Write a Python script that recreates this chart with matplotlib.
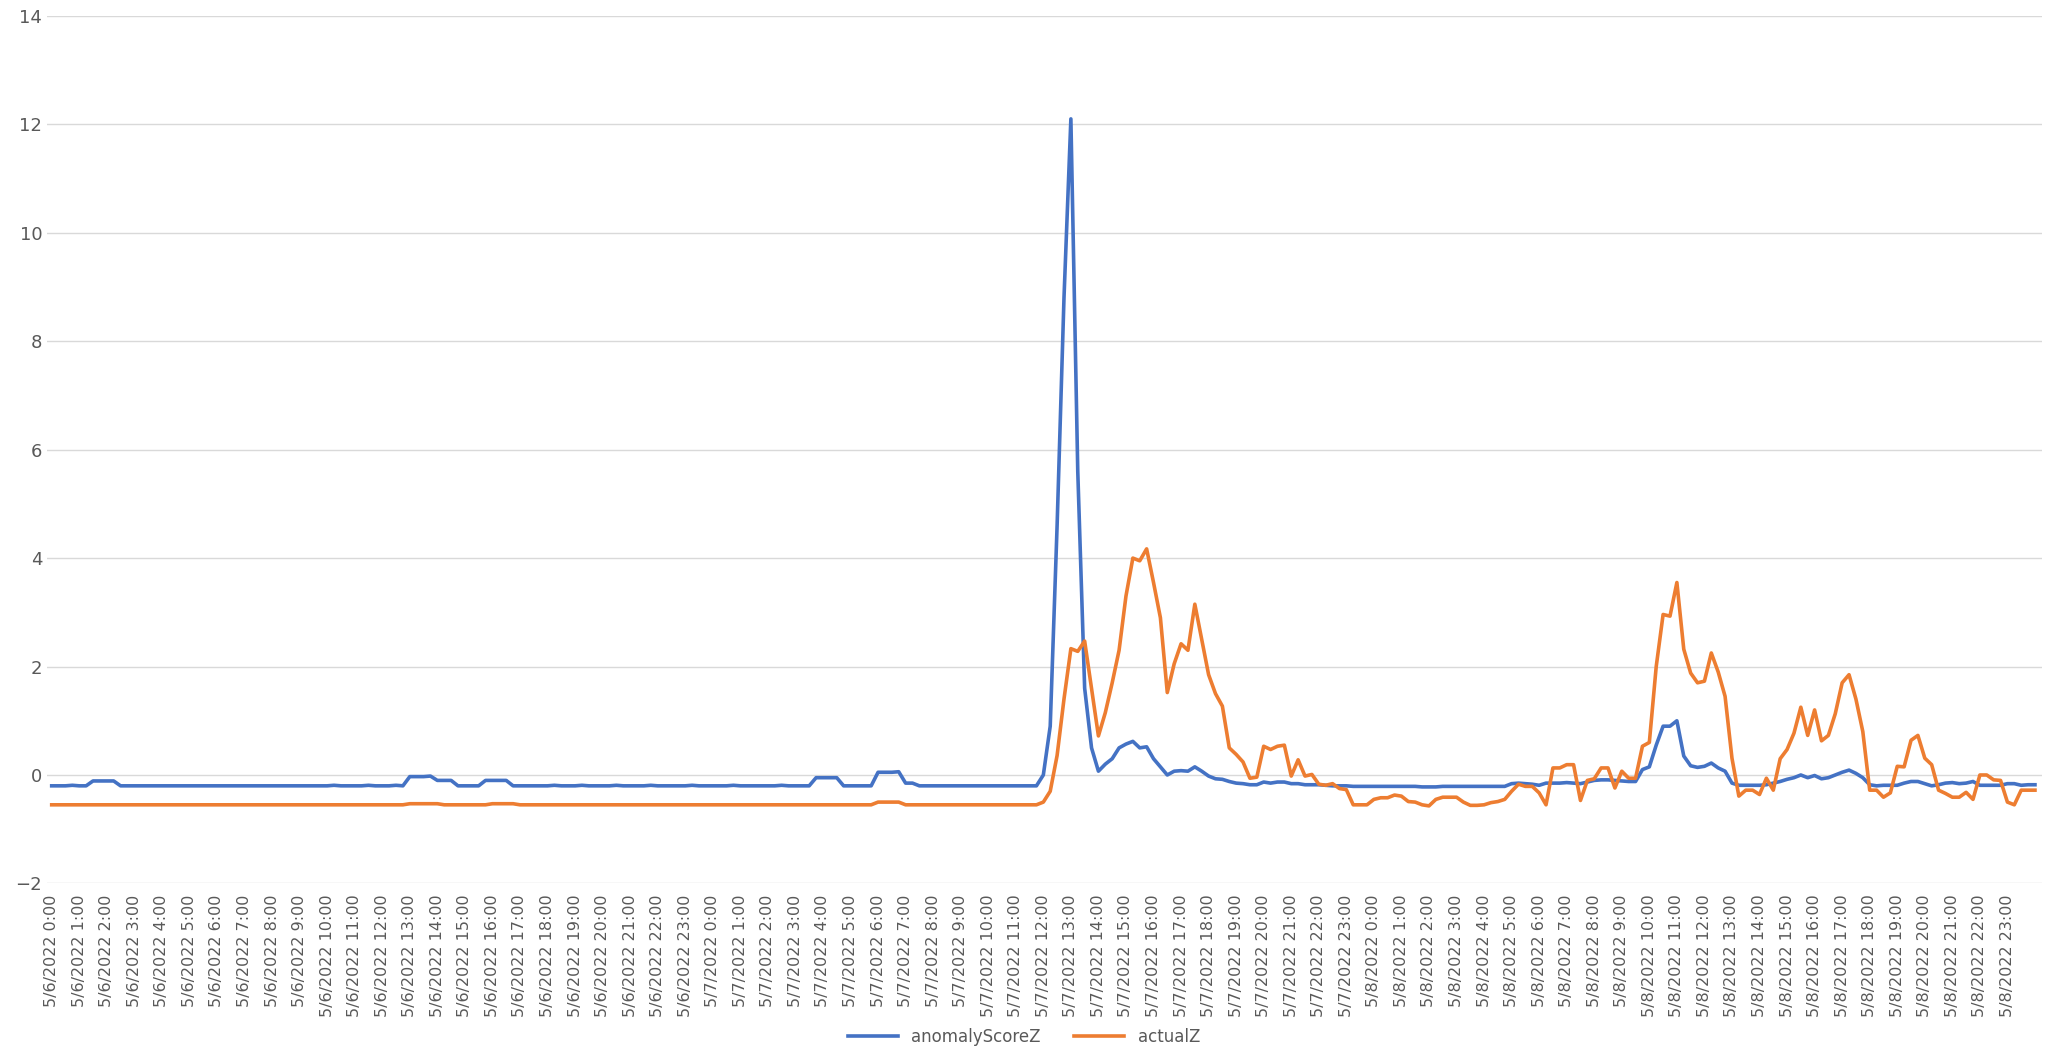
import matplotlib
matplotlib.use("Agg")
import matplotlib.pyplot as plt
import pandas as pd

# anomalyScoreZ, 15-minute samples from 5/6/2022 0:00 to 5/9/2022 0:00
anomaly_day1_day2_am = [
    -0.2, -0.2, -0.2, -0.19,   -0.2, -0.2, -0.11, -0.11,   -0.11, -0.11, -0.2, -0.2,
    -0.2, -0.2, -0.2, -0.2,    -0.2, -0.2, -0.2, -0.2,     -0.2, -0.2, -0.2, -0.2,
    -0.2, -0.2, -0.2, -0.2,    -0.2, -0.2, -0.2, -0.2,     -0.2, -0.2, -0.2, -0.2,
    -0.2, -0.2, -0.2, -0.2,    -0.2, -0.19, -0.2, -0.2,    -0.2, -0.2, -0.19, -0.2,
    -0.2, -0.2, -0.19, -0.2,   -0.03, -0.03, -0.03, -0.02, -0.1, -0.1, -0.1, -0.2,
    -0.2, -0.2, -0.2, -0.1,    -0.1, -0.1, -0.1, -0.2,     -0.2, -0.2, -0.2, -0.2,
    -0.2, -0.19, -0.2, -0.2,   -0.2, -0.19, -0.2, -0.2,    -0.2, -0.2, -0.19, -0.2,
    -0.2, -0.2, -0.2, -0.19,   -0.2, -0.2, -0.2, -0.2,     -0.2, -0.19, -0.2, -0.2,
    -0.2, -0.2, -0.2, -0.19,   -0.2, -0.2, -0.2, -0.2,     -0.2, -0.2, -0.19, -0.2,
    -0.2, -0.2, -0.2, -0.05,   -0.05, -0.05, -0.05, -0.2,  -0.2, -0.2, -0.2, -0.2,
    0.05, 0.05, 0.05, 0.06,    -0.15, -0.15, -0.2, -0.2,   -0.2, -0.2, -0.2, -0.2,
    -0.2, -0.2, -0.2, -0.2,    -0.2, -0.2, -0.2, -0.2,     -0.2, -0.2, -0.2, -0.2,
]
anomaly_day2_pm = [
    0.0, 0.9, 4.6, 8.8, 12.1, 5.6, 1.6, 0.5, 0.07, 0.2, 0.3, 0.5,
    0.57, 0.62, 0.5, 0.52, 0.3, 0.15, 0.0, 0.07, 0.08, 0.07, 0.15, 0.07,
    -0.02, -0.07, -0.08, -0.12, -0.15, -0.16, -0.18, -0.18, -0.13, -0.15, -0.13, -0.13,
    -0.16, -0.16, -0.18, -0.18, -0.18, -0.19, -0.2, -0.2, -0.2, -0.21, -0.21, -0.21,
    -0.21, -0.21, -0.21, -0.21,
]
anomaly_day3_am = [
    -0.21, -0.21, -0.21, -0.22, -0.22, -0.22, -0.21, -0.21, -0.21, -0.21, -0.21, -0.21,
    -0.21, -0.21, -0.21, -0.21, -0.16, -0.15, -0.16, -0.17, -0.19, -0.15, -0.15, -0.15,
    -0.14, -0.15, -0.16, -0.13, -0.1, -0.09, -0.09, -0.1, -0.11, -0.12, -0.12, 0.1,
    0.15, 0.55, 0.9, 0.9, 1.0, 0.35, 0.17, 0.14,
]
anomaly_day3_pm = [
    0.16, 0.22, 0.13, 0.07, -0.15, -0.19, -0.19, -0.19, -0.19, -0.18, -0.15, -0.12,
    -0.08, -0.05, 0.0, -0.05, -0.01, -0.07, -0.05, 0.0, 0.05, 0.09, 0.03, -0.05,
    -0.18, -0.2, -0.19, -0.19, -0.19, -0.15, -0.12, -0.12, -0.16, -0.2, -0.18, -0.15,
    -0.14, -0.16, -0.15, -0.12, -0.19, -0.19, -0.19, -0.19, -0.16, -0.16, -0.19, -0.18,
    -0.18,
]

# actualZ
actual_day1_day2_am = [
    -0.55, -0.55, -0.55, -0.55, -0.55, -0.55, -0.55, -0.55, -0.55, -0.55, -0.55, -0.55,
    -0.55, -0.55, -0.55, -0.55, -0.55, -0.55, -0.55, -0.55, -0.55, -0.55, -0.55, -0.55,
    -0.55, -0.55, -0.55, -0.55, -0.55, -0.55, -0.55, -0.55, -0.55, -0.55, -0.55, -0.55,
    -0.55, -0.55, -0.55, -0.55, -0.55, -0.55, -0.55, -0.55, -0.55, -0.55, -0.55, -0.55,
    -0.55, -0.55, -0.55, -0.55, -0.53, -0.53, -0.53, -0.53, -0.53, -0.55, -0.55, -0.55,
    -0.55, -0.55, -0.55, -0.55, -0.53, -0.53, -0.53, -0.53, -0.55, -0.55, -0.55, -0.55,
    -0.55, -0.55, -0.55, -0.55, -0.55, -0.55, -0.55, -0.55, -0.55, -0.55, -0.55, -0.55,
    -0.55, -0.55, -0.55, -0.55, -0.55, -0.55, -0.55, -0.55, -0.55, -0.55, -0.55, -0.55,
    -0.55, -0.55, -0.55, -0.55, -0.55, -0.55, -0.55, -0.55, -0.55, -0.55, -0.55, -0.55,
    -0.55, -0.55, -0.55, -0.55, -0.55, -0.55, -0.55, -0.55, -0.55, -0.55, -0.55, -0.55,
    -0.5, -0.5, -0.5, -0.5, -0.55, -0.55, -0.55, -0.55, -0.55, -0.55, -0.55, -0.55,
    -0.55, -0.55, -0.55, -0.55, -0.55, -0.55, -0.55, -0.55, -0.55, -0.55, -0.55, -0.55,
]
actual_day2_pm = [
    -0.5, -0.3, 0.36, 1.4, 2.33, 2.28, 2.47, 1.6, 0.72, 1.15, 1.7, 2.3,
    3.3, 4.0, 3.95, 4.17, 3.55, 2.9, 1.52, 2.05, 2.42, 2.3, 3.15, 2.5,
    1.85, 1.5, 1.27, 0.5, 0.38, 0.24, -0.06, -0.04, 0.53, 0.47, 0.53, 0.55,
    -0.02, 0.28, -0.02, 0.01, -0.17, -0.19, -0.16, -0.25, -0.27, -0.55, -0.55, -0.55,
    -0.45, -0.42, -0.42, -0.37,
]
actual_day3_am = [
    -0.39, -0.49, -0.5, -0.55, -0.57, -0.45, -0.41, -0.41, -0.41, -0.5, -0.56, -0.56,
    -0.55, -0.51, -0.49, -0.45, -0.3, -0.17, -0.21, -0.21, -0.33, -0.55, 0.13, 0.13,
    0.19, 0.19, -0.47, -0.1, -0.07, 0.13, 0.13, -0.24, 0.07, -0.06, -0.06, 0.53,
    0.6, 2.0, 2.96, 2.93, 3.55, 2.32, 1.88, 1.7,
]
actual_day3_pm = [
    1.73, 2.25, 1.9, 1.45, 0.31, -0.39, -0.28, -0.28, -0.36, -0.06, -0.28, 0.3,
    0.47, 0.77, 1.25, 0.73, 1.2, 0.63, 0.73, 1.13, 1.7, 1.85, 1.4, 0.8,
    -0.28, -0.28, -0.41, -0.33, 0.16, 0.15, 0.64, 0.73, 0.31, 0.19, -0.28, -0.34,
    -0.41, -0.41, -0.32, -0.45, 0.0, 0.0, -0.09, -0.1, -0.5, -0.55, -0.28, -0.28,
    -0.28,
]

anomaly = anomaly_day1_day2_am + anomaly_day2_pm + anomaly_day3_am + anomaly_day3_pm
actual = actual_day1_day2_am + actual_day2_pm + actual_day3_am + actual_day3_pm
times = pd.date_range("2022-05-06 00:00", periods=len(anomaly), freq="15min")
hour_ticks = pd.date_range("2022-05-06 00:00", "2022-05-08 23:00", freq="h")
tick_labels = [f"{t.month}/{t.day}/{t.year} {t.hour}:00" for t in hour_ticks]

fig = plt.figure(figsize=(20.48, 10.58), dpi=100)
ax = fig.add_axes([0.023, 0.165, 0.974, 0.82])
ax.plot(times, anomaly, color="#4472C4", lw=2.6, label="anomalyScoreZ")
ax.plot(times, actual, color="#ED7D31", lw=2.6, label="actualZ")
ax.set_ylim(-2, 14)
ax.set_yticks(range(-2, 15, 2))
ax.set_xlim(times[0] - pd.Timedelta(minutes=10), times[-1] + pd.Timedelta(minutes=15))
ax.set_xticks(hour_ticks)
ax.set_xticklabels(tick_labels, rotation=90, fontsize=11.5, color="#595959")
ax.tick_params(axis="y", labelsize=13, colors="#595959", length=0)
ax.tick_params(axis="x", length=0, pad=8)
ax.grid(axis="y", color="#D9D9D9", lw=1)
ax.set_axisbelow(True)
for s in ["top", "right", "left", "bottom"]:
    ax.spines[s].set_visible(False)
fig.legend(loc="lower center", ncol=2, frameon=False, fontsize=12,
           bbox_to_anchor=(0.5, -0.003), handlelength=3, labelcolor="#595959")
fig.savefig("out.png", dpi=100)
